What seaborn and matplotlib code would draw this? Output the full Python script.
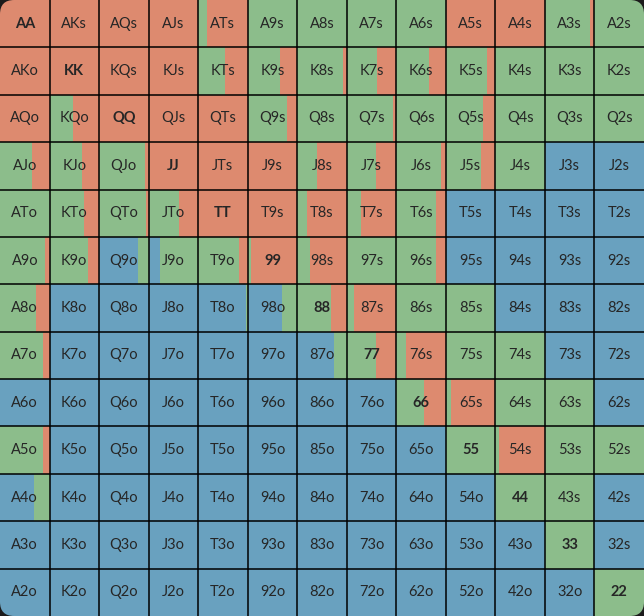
import numpy as np
import pandas as pd
import matplotlib
matplotlib.use('Agg')
import matplotlib.pyplot as plt
from matplotlib.patches import FancyBboxPatch
import seaborn as sns

# hand grid ranks
ranks = list('AKQJT98765432')

# raise frequency per cell (row = first rank, col = second rank)
raise_freq = [
	[1, 1, 1, 1, 0.83, 0, 0, 0, 0, 1, 1, 0.1, 0],
	[1, 1, 1, 1, 0.46, 0.34, 0.08, 0.38, 0.33, 0.17, 0, 0, 0],
	[1, 0.52, 1, 1, 1, 0.21, 0, 0.07, 0, 0.26, 0, 0, 0],
	[0.36, 0.35, 0.07, 1, 1, 1, 0.6, 0.4, 0.1, 0.3, 0, 0, 0],
	[0, 0.31, 0.05, 0.39, 1, 1, 0.8, 0.72, 0.2, 0, 0, 0, 0],
	[0.1, 0.22, 0, 0, 0.17, 0.93, 0.74, 0, 0.2, 0, 0, 0, 0],
	[0.28, 0, 0, 0, 0, 0, 0.31, 0.86, 0, 0, 0, 0, 0],
	[0.14, 0, 0, 0, 0, 0, 0, 0.4, 0.8, 0, 0, 0, 0],
	[0, 0, 0, 0, 0, 0, 0, 0, 0.45, 0.9, 0, 0, 0],
	[0.14, 0, 0, 0, 0, 0, 0, 0, 0, 0, 0.92, 0, 0],
	[0, 0, 0, 0, 0, 0, 0, 0, 0, 0, 0, 0, 0],
	[0, 0, 0, 0, 0, 0, 0, 0, 0, 0, 0, 0, 0],
	[0, 0, 0, 0, 0, 0, 0, 0, 0, 0, 0, 0, 0],
]

# call frequency per cell
call_freq = [
	[0, 0, 0, 0, 0.17, 1, 1, 1, 1, 0, 0, 0.9, 1],
	[0, 0, 0, 0, 0.54, 0.66, 0.92, 0.62, 0.67, 0.83, 1, 1, 1],
	[0, 0.48, 0, 0, 0, 0.79, 1, 0.93, 1, 0.74, 1, 1, 1],
	[0.64, 0.65, 0.93, 0, 0, 0, 0.4, 0.6, 0.9, 0.7, 1, 0, 0],
	[1, 0.69, 0.95, 0.61, 0, 0, 0.2, 0.28, 0.8, 0, 0, 0, 0],
	[0.9, 0.78, 0.21, 0.77, 0.83, 0.07, 0.26, 1, 0.8, 0, 0, 0, 0],
	[0.72, 0, 0, 0, 0.03, 0.3, 0.69, 0.14, 1, 1, 0, 0, 0],
	[0.86, 0, 0, 0, 0, 0, 0.26, 0.6, 0.2, 1, 1, 0, 0],
	[0, 0, 0, 0, 0, 0, 0, 0, 0.55, 0.1, 1, 1, 0],
	[0.86, 0, 0, 0, 0, 0, 0, 0, 0, 1, 0.08, 1, 1],
	[0.32, 0, 0, 0, 0, 0, 0, 0, 0, 0, 1, 1, 0],
	[0, 0, 0, 0, 0, 0, 0, 0, 0, 0, 0, 1, 0],
	[0, 0, 0, 0, 0, 0, 0, 0, 0, 0, 0, 0, 1],
]

colors = {'fold': '#69a1bf', 'call': '#8cbd8b', 'raise': '#dd8a6f'}

# long table of segments
rows = []
for i in range(13):
	for j in range(13):
		r = raise_freq[i][j]
		c = call_freq[i][j]
		f = max(0.0, 1 - r - c)
		if i == j:
			hand = ranks[i] + ranks[j]
		elif j > i:
			hand = ranks[i] + ranks[j] + 's'
		else:
			hand = ranks[j] + ranks[i] + 'o'
		rows.append({'row': i, 'col': j, 'hand': hand, 'fold': f, 'call': c, 'raise': r})
grid = pd.DataFrame(rows)

sns.set_theme(style='white')
plt.rcParams['font.family'] = ['Lato', 'DejaVu Sans']

fig = plt.figure(figsize=(6.44, 6.16), dpi=100, facecolor='#1b1b1b')
ax = fig.add_axes([0, 0, 1, 1])
ax.set_facecolor('#1b1b1b')

clip = FancyBboxPatch((0, 0), 1, 1, boxstyle='round,pad=0,rounding_size=0.022',
	transform=ax.transAxes, facecolor='none', edgecolor='none',
	mutation_aspect=644 / 616)
ax.add_patch(clip)

left = grid['col'].astype(float).values
for action in ['fold', 'call', 'raise']:
	bars = ax.barh(grid['row'], grid[action], left=left, height=1.0, align='center',
		color=colors[action], edgecolor='none', linewidth=0)
	for b in bars:
		b.set_clip_path(clip)
	left = left + grid[action].values

for _, h in grid.iterrows():
	pair = h['row'] == h['col']
	ax.text(h['col'] + 0.5, h['row'], h['hand'], ha='center', va='center',
		fontsize=10.5, color='#262626', fontweight='bold' if pair else 'normal')

for k in range(1, 13):
	ax.axvline(k, color='black', lw=1.1)
	ax.axhline(k - 0.5, color='black', lw=1.1)

ax.set_xlim(0, 13)
ax.set_ylim(12.5, -0.5)
ax.axis('off')

fig.savefig('out.png', dpi=100, facecolor=fig.get_facecolor())
